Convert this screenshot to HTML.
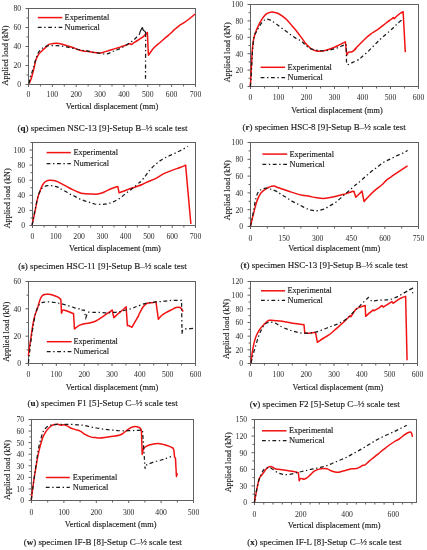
<!DOCTYPE html>
<html><head><meta charset="utf-8"><style>
html,body{margin:0;padding:0;background:#fff;}
svg{display:block;filter:blur(0.4px);}
text{font-family:"Liberation Serif", serif;fill:#1a1a1a;stroke:#1a1a1a;stroke-width:0.15px;}
.n{font-size:8.7px;fill:#2a2a2a;stroke:none;}
.t{font-size:8.8px;}
.c{font-size:9.1px;}
.ax{fill:none;stroke:#606060;stroke-width:1;}
.red{fill:none;stroke:#f21212;stroke-width:1.5;stroke-linejoin:round;}
.blks{fill:none;stroke:#1a1a1a;stroke-width:1.2;}
.blk{fill:none;stroke:#1a1a1a;stroke-width:1.25;stroke-dasharray:3.8 2.6 1.4 2.6;}
</style></head><body>
<svg width="427" height="550" viewBox="0 0 427 550">
<text x="21.1" y="87.4" text-anchor="end" class="n" textLength="3.85" lengthAdjust="spacingAndGlyphs">0</text>
<text x="21.1" y="68.4" text-anchor="end" class="n" textLength="7.7" lengthAdjust="spacingAndGlyphs">20</text>
<text x="21.1" y="49.4" text-anchor="end" class="n" textLength="7.7" lengthAdjust="spacingAndGlyphs">40</text>
<text x="21.1" y="30.4" text-anchor="end" class="n" textLength="7.7" lengthAdjust="spacingAndGlyphs">60</text>
<text x="21.1" y="11.4" text-anchor="end" class="n" textLength="7.7" lengthAdjust="spacingAndGlyphs">80</text>
<text x="28.5" y="97.4" text-anchor="middle" class="n" textLength="3.85" lengthAdjust="spacingAndGlyphs">0</text>
<text x="52.36" y="97.4" text-anchor="middle" class="n" textLength="11.55" lengthAdjust="spacingAndGlyphs">100</text>
<text x="76.21" y="97.4" text-anchor="middle" class="n" textLength="11.55" lengthAdjust="spacingAndGlyphs">200</text>
<text x="100.07" y="97.4" text-anchor="middle" class="n" textLength="11.55" lengthAdjust="spacingAndGlyphs">300</text>
<text x="123.93" y="97.4" text-anchor="middle" class="n" textLength="11.55" lengthAdjust="spacingAndGlyphs">400</text>
<text x="147.79" y="97.4" text-anchor="middle" class="n" textLength="11.55" lengthAdjust="spacingAndGlyphs">500</text>
<text x="171.64" y="97.4" text-anchor="middle" class="n" textLength="11.55" lengthAdjust="spacingAndGlyphs">600</text>
<text x="195.5" y="97.4" text-anchor="middle" class="n" textLength="11.55" lengthAdjust="spacingAndGlyphs">700</text>
<path d="M25.5 84.5H28.5M26.5 75H28.5M25.5 65.5H28.5M26.5 56H28.5M25.5 46.5H28.5M26.5 37H28.5M25.5 27.5H28.5M26.5 18H28.5M25.5 8.5H28.5M28.5 84.5V87M40.43 84.5V86.5M52.36 84.5V87M64.29 84.5V86.5M76.21 84.5V87M88.14 84.5V86.5M100.07 84.5V87M112 84.5V86.5M123.93 84.5V87M135.86 84.5V86.5M147.79 84.5V87M159.71 84.5V86.5M171.64 84.5V87M183.57 84.5V86.5M195.5 84.5V87" class="ax"/>
<rect x="28.5" y="8.5" width="167" height="76" class="ax"/>
<text transform="translate(8.3 55.5) rotate(-90)" text-anchor="middle" class="t" textLength="60" lengthAdjust="spacingAndGlyphs">Applied load (kN)</text>
<text x="65.7" y="108.7" class="t" textLength="92.6" lengthAdjust="spacingAndGlyphs">Vertical displacement (mm)</text>
<path d="M29.18 83.45C29.48 82.76 30.43 80.95 31.01 79.28C31.6 77.6 32.13 75.52 32.69 73.43C33.24 71.34 33.87 68.83 34.36 66.74C34.84 64.65 35.12 62.56 35.61 60.89C36.1 59.22 36.65 57.97 37.28 56.71C37.91 55.46 38.47 54.48 39.37 53.37C40.28 52.26 41.6 51.07 42.71 50.03C43.83 48.98 45.08 48.01 46.06 47.1C47.03 46.2 47.59 45.15 48.56 44.6C49.54 44.04 50.67 43.97 51.91 43.76C53.14 43.55 54.86 43.39 56 43.34C57.14 43.3 57.57 43.3 58.72 43.49C59.88 43.68 61.53 44.1 62.94 44.47C64.34 44.85 65.52 45.22 67.15 45.74C68.79 46.25 70.9 46.91 72.78 47.56C74.65 48.22 76.36 49.04 78.4 49.67C80.43 50.3 83.56 51.1 85 51.36C86.44 51.61 85.52 50.99 87.03 51.19C88.53 51.4 91.83 52.3 94.05 52.6C96.28 52.9 98.5 53.19 100.37 53.02C102.25 52.86 103.3 52.2 105.29 51.62C107.28 51.03 109.98 50.21 112.32 49.51C114.66 48.81 117 48.15 119.34 47.4C121.69 46.65 124.61 45.64 126.37 45.01C128.13 44.38 129.3 43.84 129.88 43.61C130.12 43.77 131.05 44.43 131.29 44.59C131.87 44.19 132.85 43.48 134.8 42.2C136.75 40.93 141.28 38.23 143.01 36.94C144.74 35.65 144.47 35.19 145.19 34.47C145.92 33.74 147.01 32.89 147.38 32.57C147.55 36.33 148.23 51.38 148.4 55.15C149.32 53.93 152.04 49.93 153.93 47.86C155.83 45.8 157.82 44.47 159.76 42.77C161.7 41.07 163.76 39.25 165.58 37.67C167.4 36.09 169.22 34.64 170.68 33.3C172.14 31.97 172.99 30.87 174.32 29.66C175.66 28.45 176.99 27.23 178.69 26.02C180.39 24.81 182.57 23.71 184.51 22.38C186.46 21.04 188.59 19.39 190.34 18.01C192.09 16.63 194.22 14.73 195 14.08" class="red"/>
<path d="M29.18 83.45C29.34 82.48 29.73 79.42 30.18 77.6C30.62 75.79 31.29 74.26 31.85 72.59C32.41 70.92 33.03 69.25 33.52 67.58C34.01 65.91 34.29 64.23 34.77 62.56C35.26 60.89 35.89 59.15 36.45 57.55C37 55.95 37.35 54.35 38.12 52.95C38.88 51.56 40 50.17 41.04 49.19C42.09 48.22 43.27 47.66 44.38 47.1C45.5 46.55 46.61 46.09 47.73 45.85C48.84 45.61 49.69 45.71 51.07 45.68C52.45 45.65 54.49 45.65 56 45.68C57.51 45.72 58.5 45.68 60.13 45.88C61.75 46.07 63.88 46.53 65.75 46.86C67.62 47.19 69.5 47.45 71.37 47.85C73.24 48.24 75.12 48.83 76.99 49.25C78.86 49.67 80.94 50.1 82.61 50.37C84.28 50.65 85.12 50.59 87.03 50.91C88.93 51.24 91.71 51.9 94.05 52.32C96.39 52.74 98.97 53.16 101.08 53.44C103.19 53.72 104.82 54.31 106.7 54C108.57 53.7 110.44 52.37 112.32 51.62C114.19 50.87 116.07 50.33 117.94 49.51C119.81 48.69 121.69 47.75 123.56 46.7C125.43 45.64 127.31 44.47 129.18 43.19C131.05 41.9 133.15 40.42 134.8 38.97C136.45 37.52 138.36 35.22 139.08 34.47" class="blk"/>
<path d="M145.7 33.3C145.68 36.08 145.63 42.13 145.6 50C145.57 57.87 145.52 75.42 145.5 80.5" class="blk"/>
<path d="M139.3 34.6C139.45 34.12 139.9 32.5 140.2 31.7C140.5 30.9 140.75 30.5 141.1 29.8C141.45 29.1 141.98 27.53 142.3 27.5C142.62 27.47 142.68 29.05 143 29.6C143.32 30.15 143.82 30.42 144.2 30.8C144.58 31.18 145.05 31.48 145.3 31.9C145.55 32.32 145.63 33.07 145.7 33.3" class="blks"/>
<path d="M37.8 17.6H62.3" class="red"/>
<path d="M37.8 27.4H62.3" class="blk"/>
<text x="64.6" y="20.1" class="t" textLength="44.7" lengthAdjust="spacingAndGlyphs">Experimental</text>
<text x="64.6" y="29.9" class="t" textLength="35.2" lengthAdjust="spacingAndGlyphs">Numerical</text>
<text x="17.6" y="130.6" class="c" textLength="169.9" lengthAdjust="spacingAndGlyphs">(<tspan font-weight="bold">q</tspan>) specimen NSC-13 [9]-Setup B–½ scale test</text>
<text x="243.1" y="89.4" text-anchor="end" class="n" textLength="3.85" lengthAdjust="spacingAndGlyphs">0</text>
<text x="243.1" y="73" text-anchor="end" class="n" textLength="7.7" lengthAdjust="spacingAndGlyphs">20</text>
<text x="243.1" y="56.6" text-anchor="end" class="n" textLength="7.7" lengthAdjust="spacingAndGlyphs">40</text>
<text x="243.1" y="40.2" text-anchor="end" class="n" textLength="7.7" lengthAdjust="spacingAndGlyphs">60</text>
<text x="243.1" y="23.8" text-anchor="end" class="n" textLength="7.7" lengthAdjust="spacingAndGlyphs">80</text>
<text x="243.1" y="7.4" text-anchor="end" class="n" textLength="11.55" lengthAdjust="spacingAndGlyphs">100</text>
<text x="250.5" y="99.9" text-anchor="middle" class="n" textLength="3.85" lengthAdjust="spacingAndGlyphs">0</text>
<text x="278.5" y="99.9" text-anchor="middle" class="n" textLength="11.55" lengthAdjust="spacingAndGlyphs">100</text>
<text x="306.5" y="99.9" text-anchor="middle" class="n" textLength="11.55" lengthAdjust="spacingAndGlyphs">200</text>
<text x="334.5" y="99.9" text-anchor="middle" class="n" textLength="11.55" lengthAdjust="spacingAndGlyphs">300</text>
<text x="362.5" y="99.9" text-anchor="middle" class="n" textLength="11.55" lengthAdjust="spacingAndGlyphs">400</text>
<text x="390.5" y="99.9" text-anchor="middle" class="n" textLength="11.55" lengthAdjust="spacingAndGlyphs">500</text>
<text x="418.5" y="99.9" text-anchor="middle" class="n" textLength="11.55" lengthAdjust="spacingAndGlyphs">600</text>
<path d="M247.5 86.5H250.5M248.5 78.3H250.5M247.5 70.1H250.5M248.5 61.9H250.5M247.5 53.7H250.5M248.5 45.5H250.5M247.5 37.3H250.5M248.5 29.1H250.5M247.5 20.9H250.5M248.5 12.7H250.5M247.5 4.5H250.5M250.5 86.5V89M264.5 86.5V88.5M278.5 86.5V89M292.5 86.5V88.5M306.5 86.5V89M320.5 86.5V88.5M334.5 86.5V89M348.5 86.5V88.5M362.5 86.5V89M376.5 86.5V88.5M390.5 86.5V89M404.5 86.5V88.5M418.5 86.5V89" class="ax"/>
<rect x="250.5" y="4.5" width="168" height="82" class="ax"/>
<text transform="translate(230.1 52.3) rotate(-90)" text-anchor="middle" class="t" textLength="60" lengthAdjust="spacingAndGlyphs">Applied load (kN)</text>
<text x="291.2" y="112.5" class="t" textLength="91.5" lengthAdjust="spacingAndGlyphs">Vertical displacement (mm)</text>
<path d="M250.34 86.38C250.47 84.03 250.86 77.26 251.12 72.31C251.39 67.36 251.65 61.11 251.91 56.69C252.17 52.26 252.35 48.88 252.69 45.75C253.03 42.62 253.42 40.28 253.94 37.94C254.46 35.59 255.11 33.64 255.81 31.69C256.52 29.73 257.38 27.91 258.16 26.22C258.94 24.53 259.59 23.09 260.5 21.53C261.41 19.97 262.58 18.15 263.62 16.84C264.67 15.54 265.58 14.5 266.75 13.72C267.92 12.94 269.48 12.42 270.66 12.16C271.83 11.9 272.61 11.97 273.78 12.16C274.95 12.34 276.26 12.6 277.69 13.25C279.12 13.9 280.81 14.94 282.38 16.06C283.94 17.18 285.5 18.41 287.06 19.97C288.62 21.53 290.19 23.61 291.75 25.44C293.31 27.26 294.88 28.95 296.44 30.91C298 32.86 299.69 35.2 301.12 37.16C302.56 39.11 304.05 41.32 305.03 42.62C306.02 43.93 306.05 43.98 307.03 44.97C308.02 45.96 309.51 47.6 310.94 48.56C312.37 49.53 314.06 50.31 315.62 50.75C317.19 51.19 318.75 51.27 320.31 51.22C321.88 51.17 323.18 50.88 325 50.44C326.82 49.99 329.17 49.34 331.25 48.56C333.33 47.78 335.68 46.61 337.5 45.75C339.32 44.89 340.89 44.06 342.19 43.41C343.49 42.76 344.79 42.1 345.31 41.84C345.57 44.06 346.61 52.91 346.88 55.12C347.14 54.66 347.66 52.83 348.44 52.31C349.22 51.79 350.65 52.31 351.56 52C352.47 51.69 353.12 51.09 353.91 50.44C354.69 49.79 356.07 48.35 356.25 48.09C356.43 47.83 354.43 49.53 355 48.88C355.57 48.22 357.86 46.01 359.69 44.19C361.51 42.36 364.11 39.63 365.94 37.94C367.76 36.24 368.8 35.33 370.62 34.03C372.45 32.73 374.79 31.56 376.88 30.12C378.96 28.69 381.3 26.87 383.12 25.44C384.95 24.01 386.51 22.52 387.81 21.53C389.11 20.54 390.03 20.15 390.94 19.5C391.85 18.85 392.89 17.94 393.28 17.62C393.46 17.81 394.19 18.54 394.38 18.72C394.84 18.22 396.2 16.66 397.19 15.75C398.18 14.84 399.32 13.93 400.31 13.25C401.3 12.57 402.66 11.95 403.12 11.69C403.49 18.46 404.95 45.54 405.31 52.31" class="red"/>
<path d="M250.34 86.38C250.47 84.81 250.86 81.17 251.12 77C251.39 72.83 251.65 66.06 251.91 61.38C252.17 56.69 252.3 53.17 252.69 48.88C253.08 44.58 253.6 38.46 254.25 35.59C254.9 32.73 255.81 33.12 256.59 31.69C257.38 30.26 258.03 28.56 258.94 27C259.85 25.44 261.02 23.56 262.06 22.31C263.1 21.06 264.28 20.02 265.19 19.5C266.1 18.98 266.49 18.98 267.53 19.19C268.57 19.4 270.01 19.97 271.44 20.75C272.87 21.53 274.3 22.57 276.12 23.88C277.95 25.18 280.29 27 282.38 28.56C284.46 30.12 286.54 31.74 288.62 33.25C290.71 34.76 292.79 36.32 294.88 37.62C296.96 38.93 299.49 39.97 301.12 41.06C302.76 42.16 303.31 43.02 304.69 44.19C306.06 45.36 307.55 47.1 309.38 48.09C311.2 49.08 313.54 49.68 315.62 50.12C317.71 50.57 319.79 50.7 321.88 50.75C323.96 50.8 326.04 50.75 328.12 50.44C330.21 50.12 332.29 49.53 334.38 48.88C336.46 48.22 338.67 47.31 340.62 46.53C342.58 45.75 345.18 44.58 346.09 44.19C346.17 47.44 346.48 60.46 346.56 63.72C346.88 63.85 347.34 64.76 348.44 64.5C349.53 64.24 351.2 63.07 353.12 62.16C355.05 61.24 358.65 59.81 360 59.03C361.35 58.25 360 58.64 361.25 57.47C362.5 56.3 365.42 53.95 367.5 52C369.58 50.05 371.67 47.83 373.75 45.75C375.83 43.67 377.92 41.45 380 39.5C382.08 37.55 384.17 35.85 386.25 34.03C388.33 32.21 390.68 30.26 392.5 28.56C394.32 26.87 395.62 25.31 397.19 23.88C398.75 22.44 401.09 20.62 401.88 19.97" class="blk"/>
<path d="M260.6 67.3H285.1" class="red"/>
<path d="M260.6 77.6H285.1" class="blk"/>
<text x="287.4" y="69.8" class="t" textLength="44.5" lengthAdjust="spacingAndGlyphs">Experimental</text>
<text x="287.4" y="80.1" class="t" textLength="35.4" lengthAdjust="spacingAndGlyphs">Numerical</text>
<text x="242.6" y="130.2" class="c" textLength="163.1" lengthAdjust="spacingAndGlyphs">(<tspan font-weight="bold">r</tspan>) specimen HSC-8 [9]-Setup B–½ scale test</text>
<text x="25.1" y="228.4" text-anchor="end" class="n" textLength="3.85" lengthAdjust="spacingAndGlyphs">0</text>
<text x="25.1" y="213.31" text-anchor="end" class="n" textLength="7.7" lengthAdjust="spacingAndGlyphs">20</text>
<text x="25.1" y="198.22" text-anchor="end" class="n" textLength="7.7" lengthAdjust="spacingAndGlyphs">40</text>
<text x="25.1" y="183.13" text-anchor="end" class="n" textLength="7.7" lengthAdjust="spacingAndGlyphs">60</text>
<text x="25.1" y="168.04" text-anchor="end" class="n" textLength="7.7" lengthAdjust="spacingAndGlyphs">80</text>
<text x="25.1" y="152.95" text-anchor="end" class="n" textLength="11.55" lengthAdjust="spacingAndGlyphs">100</text>
<text x="32.5" y="238.5" text-anchor="middle" class="n" textLength="3.85" lengthAdjust="spacingAndGlyphs">0</text>
<text x="55.79" y="238.5" text-anchor="middle" class="n" textLength="11.55" lengthAdjust="spacingAndGlyphs">100</text>
<text x="79.07" y="238.5" text-anchor="middle" class="n" textLength="11.55" lengthAdjust="spacingAndGlyphs">200</text>
<text x="102.36" y="238.5" text-anchor="middle" class="n" textLength="11.55" lengthAdjust="spacingAndGlyphs">300</text>
<text x="125.64" y="238.5" text-anchor="middle" class="n" textLength="11.55" lengthAdjust="spacingAndGlyphs">400</text>
<text x="148.93" y="238.5" text-anchor="middle" class="n" textLength="11.55" lengthAdjust="spacingAndGlyphs">500</text>
<text x="172.21" y="238.5" text-anchor="middle" class="n" textLength="11.55" lengthAdjust="spacingAndGlyphs">600</text>
<text x="195.5" y="238.5" text-anchor="middle" class="n" textLength="11.55" lengthAdjust="spacingAndGlyphs">700</text>
<path d="M29.5 225.5H32.5M30.5 217.95H32.5M29.5 210.41H32.5M30.5 202.86H32.5M29.5 195.32H32.5M30.5 187.77H32.5M29.5 180.23H32.5M30.5 172.68H32.5M29.5 165.14H32.5M30.5 157.59H32.5M29.5 150.05H32.5M30.5 142.5H32.5M32.5 225.5V228M44.14 225.5V227.5M55.79 225.5V228M67.43 225.5V227.5M79.07 225.5V228M90.71 225.5V227.5M102.36 225.5V228M114 225.5V227.5M125.64 225.5V228M137.29 225.5V227.5M148.93 225.5V228M160.57 225.5V227.5M172.21 225.5V228M183.86 225.5V227.5M195.5 225.5V228" class="ax"/>
<rect x="32.5" y="142.5" width="163" height="83" class="ax"/>
<text transform="translate(9.8 198.3) rotate(-90)" text-anchor="middle" class="t" textLength="60" lengthAdjust="spacingAndGlyphs">Applied load (kN)</text>
<text x="68.9" y="250.8" class="t" textLength="92" lengthAdjust="spacingAndGlyphs">Vertical displacement (mm)</text>
<path d="M32.11 224.93C32.38 223.7 33.17 220 33.7 217.54C34.23 215.07 34.75 212.78 35.28 210.14C35.81 207.5 36.34 204.15 36.87 201.69C37.39 199.23 37.92 197.11 38.45 195.35C38.98 193.59 39.51 192.54 40.04 191.13C40.56 189.72 41 188.22 41.62 186.9C42.24 185.58 42.94 184.17 43.73 183.2C44.52 182.24 45.4 181.57 46.37 181.09C47.34 180.62 48.4 180.44 49.54 180.35C50.69 180.26 51.92 180.35 53.24 180.56C54.56 180.77 55.74 180.91 57.46 181.62C59.19 182.33 61.78 183.82 63.6 184.8C65.42 185.78 66.8 186.67 68.4 187.52C70 188.37 71.6 189.17 73.2 189.92C74.8 190.67 76.4 191.39 78 192C79.6 192.61 80.57 193.25 82.8 193.6C85.03 193.95 88.9 194 91.4 194.08C93.9 194.16 95.93 194.29 97.8 194.08C99.67 193.87 101 193.41 102.6 192.8C104.2 192.19 105.8 191.15 107.4 190.4C109 189.65 110.47 188.99 112.2 188.32C113.93 187.65 116.87 186.72 117.8 186.4C118.01 187.47 118.87 191.73 119.08 192.8C119.8 192.53 121.61 191.87 123.4 191.2C125.19 190.53 127.67 189.55 129.8 188.8C131.93 188.05 134.33 187.39 136.2 186.72C138.07 186.05 140.37 184.99 141 184.8C141.63 184.61 139.1 186 140 185.6C140.9 185.2 143.73 183.6 146.4 182.4C149.07 181.2 153.33 179.73 156 178.4C158.67 177.07 160.27 175.52 162.4 174.4C164.53 173.28 166.67 172.56 168.8 171.68C170.93 170.8 173.33 169.81 175.2 169.12C177.07 168.43 178.27 168.19 180 167.52C181.73 166.85 184.67 165.52 185.6 165.12C186.48 174.93 190 214.19 190.88 224" class="red"/>
<path d="M32.11 224.93C32.29 224.05 32.73 221.94 33.17 219.65C33.61 217.36 34.23 213.84 34.75 211.2C35.28 208.56 35.81 206.27 36.34 203.8C36.87 201.34 37.39 198.35 37.92 196.41C38.45 194.47 38.89 193.5 39.51 192.18C40.12 190.86 40.83 189.4 41.62 188.49C42.41 187.57 43.29 187.17 44.26 186.69C45.23 186.21 46.29 185.81 47.43 185.63C48.57 185.46 49.81 185.51 51.13 185.63C52.45 185.76 54.12 186.07 55.35 186.37C56.58 186.67 57.68 187.03 58.52 187.43C59.36 187.83 59.29 188.17 60.4 188.8C61.51 189.43 63.6 190.32 65.2 191.2C66.8 192.08 68.4 193.23 70 194.08C71.6 194.93 73.2 195.52 74.8 196.32C76.4 197.12 78 198.13 79.6 198.88C81.2 199.63 82.7 200.21 84.4 200.8C86.1 201.39 88.1 201.87 89.8 202.4C91.5 202.93 92.73 203.65 94.6 204C96.47 204.35 98.87 204.53 101 204.48C103.13 204.43 105.27 204.16 107.4 203.68C109.53 203.2 111.67 202.56 113.8 201.6C115.93 200.64 118.07 199.39 120.2 197.92C122.33 196.45 124.47 194.45 126.6 192.8C128.73 191.15 130.87 189.73 133 188C135.13 186.27 138.23 183.33 139.4 182.4C140.57 181.47 139.1 183.33 140 182.4C140.9 181.47 143.2 178.8 144.8 176.8C146.4 174.8 147.73 172.53 149.6 170.4C151.47 168.27 153.87 165.87 156 164C158.13 162.13 160.27 160.53 162.4 159.2C164.53 157.87 166.67 157.01 168.8 156C170.93 154.99 173.07 154.13 175.2 153.12C177.33 152.11 179.47 151.04 181.6 149.92C183.73 148.8 186.93 146.99 188 146.4" class="blk"/>
<path d="M46.6 152.6H70.8" class="red"/>
<path d="M46.6 163.6H70.8" class="blk"/>
<text x="73.5" y="155.1" class="t" textLength="44.5" lengthAdjust="spacingAndGlyphs">Experimental</text>
<text x="73.5" y="166.1" class="t" textLength="35.6" lengthAdjust="spacingAndGlyphs">Numerical</text>
<text x="18.2" y="268.6" class="c" textLength="168.5" lengthAdjust="spacingAndGlyphs">(<tspan font-weight="bold">s</tspan>) specimen HSC-11 [9]-Setup B–½ scale test</text>
<text x="243.1" y="229.4" text-anchor="end" class="n" textLength="3.85" lengthAdjust="spacingAndGlyphs">0</text>
<text x="243.1" y="212.6" text-anchor="end" class="n" textLength="7.7" lengthAdjust="spacingAndGlyphs">20</text>
<text x="243.1" y="195.8" text-anchor="end" class="n" textLength="7.7" lengthAdjust="spacingAndGlyphs">40</text>
<text x="243.1" y="179" text-anchor="end" class="n" textLength="7.7" lengthAdjust="spacingAndGlyphs">60</text>
<text x="243.1" y="162.2" text-anchor="end" class="n" textLength="7.7" lengthAdjust="spacingAndGlyphs">80</text>
<text x="243.1" y="145.4" text-anchor="end" class="n" textLength="11.55" lengthAdjust="spacingAndGlyphs">100</text>
<text x="250.5" y="240.5" text-anchor="middle" class="n" textLength="3.85" lengthAdjust="spacingAndGlyphs">0</text>
<text x="284.1" y="240.5" text-anchor="middle" class="n" textLength="11.55" lengthAdjust="spacingAndGlyphs">150</text>
<text x="317.7" y="240.5" text-anchor="middle" class="n" textLength="11.55" lengthAdjust="spacingAndGlyphs">300</text>
<text x="351.3" y="240.5" text-anchor="middle" class="n" textLength="11.55" lengthAdjust="spacingAndGlyphs">450</text>
<text x="384.9" y="240.5" text-anchor="middle" class="n" textLength="11.55" lengthAdjust="spacingAndGlyphs">600</text>
<text x="418.5" y="240.5" text-anchor="middle" class="n" textLength="11.55" lengthAdjust="spacingAndGlyphs">750</text>
<path d="M247.5 226.5H250.5M248.5 218.1H250.5M247.5 209.7H250.5M248.5 201.3H250.5M247.5 192.9H250.5M248.5 184.5H250.5M247.5 176.1H250.5M248.5 167.7H250.5M247.5 159.3H250.5M248.5 150.9H250.5M247.5 142.5H250.5M250.5 226.5V229M267.3 226.5V228.5M284.1 226.5V229M300.9 226.5V228.5M317.7 226.5V229M334.5 226.5V228.5M351.3 226.5V229M368.1 226.5V228.5M384.9 226.5V229M401.7 226.5V228.5M418.5 226.5V229" class="ax"/>
<rect x="250.5" y="142.5" width="168" height="84" class="ax"/>
<text transform="translate(229.9 190.2) rotate(-90)" text-anchor="middle" class="t" textLength="60" lengthAdjust="spacingAndGlyphs">Applied load (kN)</text>
<text x="288.2" y="250.8" class="t" textLength="92" lengthAdjust="spacingAndGlyphs">Vertical displacement (mm)</text>
<path d="M250.41 226.13C250.57 225.48 251.05 223.55 251.38 222.27C251.7 220.98 252.02 219.69 252.34 218.41C252.66 217.12 252.98 215.84 253.31 214.55C253.63 213.26 253.95 211.98 254.27 210.69C254.59 209.41 254.83 208.28 255.23 206.83C255.64 205.39 256.2 203.46 256.68 202.01C257.16 200.56 257.57 199.44 258.13 198.15C258.69 196.86 259.33 195.42 260.06 194.29C260.78 193.17 261.59 192.23 262.47 191.4C263.35 190.56 264.4 189.92 265.36 189.28C266.33 188.63 267.29 188.02 268.26 187.54C269.22 187.06 270.19 186.62 271.15 186.38C272.12 186.14 272.84 185.88 274.05 186.09C275.25 186.31 276.87 187.15 278.4 187.68C279.93 188.21 281.33 188.64 283.2 189.28C285.07 189.92 287.47 190.8 289.6 191.52C291.73 192.24 293.87 192.99 296 193.6C298.13 194.21 300.17 194.75 302.4 195.2C304.63 195.65 307.17 195.92 309.4 196.32C311.63 196.72 313.4 197.25 315.8 197.6C318.2 197.95 321.13 198.45 323.8 198.4C326.47 198.35 329.13 197.81 331.8 197.28C334.47 196.75 337.4 195.81 339.8 195.2C342.2 194.59 344.33 194.13 346.2 193.6C348.07 193.07 349.72 192.4 351 192C352.28 191.6 353.4 191.33 353.88 191.2C354.2 192.21 355.48 196.27 355.8 197.28C356.83 196.26 360.96 192.16 361.99 191.13C362.34 192.87 363.73 199.79 364.07 201.52C364.66 200.85 365.94 199.26 367.59 197.53C369.24 195.79 371.58 193.26 373.98 191.13C376.38 189 379.84 186.61 381.97 184.74C384.1 182.88 384.9 181.49 386.76 179.95C388.63 178.4 391.02 176.94 393.15 175.47C395.29 174.01 397.15 172.76 399.55 171.16C401.94 169.56 406.2 166.77 407.54 165.89" class="red"/>
<path d="M250.41 226.13C250.52 225.64 250.85 224.36 251.09 223.23C251.33 222.11 251.57 220.82 251.86 219.37C252.15 217.93 252.5 216.16 252.82 214.55C253.14 212.94 253.47 211.5 253.79 209.73C254.11 207.96 254.43 205.71 254.75 203.94C255.07 202.17 255.32 200.72 255.72 199.12C256.12 197.51 256.6 195.66 257.16 194.29C257.73 192.93 258.37 191.75 259.09 190.92C259.82 190.08 260.62 189.71 261.5 189.28C262.39 188.84 263.43 188.47 264.4 188.31C265.36 188.15 266.33 188.2 267.29 188.31C268.26 188.42 269.22 188.71 270.19 188.99C271.15 189.26 271.95 189.52 273.08 189.95C274.21 190.39 275.79 190.98 276.94 191.59C278.09 192.2 278.42 192.6 280 193.6C281.58 194.6 284.27 196.27 286.4 197.6C288.53 198.93 290.67 200.4 292.8 201.6C294.93 202.8 296.7 203.55 299.2 204.8C301.7 206.05 305.57 208.19 307.8 209.12C310.03 210.05 311 210.13 312.6 210.4C314.2 210.67 315.53 210.93 317.4 210.72C319.27 210.51 321.67 209.97 323.8 209.12C325.93 208.27 328.07 206.85 330.2 205.6C332.33 204.35 334.47 203.2 336.6 201.6C338.73 200 340.87 197.87 343 196C345.13 194.13 347.27 192.27 349.4 190.4C351.53 188.53 354.37 186.01 355.8 184.8C357.23 183.59 356.57 184.35 358 183.14C359.43 181.94 362.26 179.42 364.39 177.55C366.52 175.69 368.65 173.69 370.78 171.96C372.91 170.23 375.04 168.76 377.18 167.16C379.31 165.57 381.44 163.7 383.57 162.37C385.7 161.04 387.83 160.24 389.96 159.18C392.09 158.11 394.22 156.99 396.35 155.98C398.48 154.97 400.88 154.04 402.74 153.1C404.61 152.17 406.74 150.84 407.54 150.39" class="blk"/>
<path d="M262.4 154.1H287.2" class="red"/>
<path d="M262.4 164.3H287.2" class="blk"/>
<text x="289.5" y="156.6" class="t" textLength="44.5" lengthAdjust="spacingAndGlyphs">Experimental</text>
<text x="289.5" y="166.8" class="t" textLength="35.1" lengthAdjust="spacingAndGlyphs">Numerical</text>
<text x="240.5" y="267.8" class="c" textLength="167.2" lengthAdjust="spacingAndGlyphs">(<tspan font-weight="bold">t</tspan>) specimen HSC-13 [9]-Setup B–½ scale test</text>
<text x="21.1" y="366.4" text-anchor="end" class="n" textLength="3.85" lengthAdjust="spacingAndGlyphs">0</text>
<text x="21.1" y="339.07" text-anchor="end" class="n" textLength="7.7" lengthAdjust="spacingAndGlyphs">20</text>
<text x="21.1" y="311.73" text-anchor="end" class="n" textLength="7.7" lengthAdjust="spacingAndGlyphs">40</text>
<text x="21.1" y="284.4" text-anchor="end" class="n" textLength="7.7" lengthAdjust="spacingAndGlyphs">60</text>
<text x="28.5" y="377.2" text-anchor="middle" class="n" textLength="3.85" lengthAdjust="spacingAndGlyphs">0</text>
<text x="56.33" y="377.2" text-anchor="middle" class="n" textLength="11.55" lengthAdjust="spacingAndGlyphs">100</text>
<text x="84.17" y="377.2" text-anchor="middle" class="n" textLength="11.55" lengthAdjust="spacingAndGlyphs">200</text>
<text x="112" y="377.2" text-anchor="middle" class="n" textLength="11.55" lengthAdjust="spacingAndGlyphs">300</text>
<text x="139.83" y="377.2" text-anchor="middle" class="n" textLength="11.55" lengthAdjust="spacingAndGlyphs">400</text>
<text x="167.67" y="377.2" text-anchor="middle" class="n" textLength="11.55" lengthAdjust="spacingAndGlyphs">500</text>
<text x="195.5" y="377.2" text-anchor="middle" class="n" textLength="11.55" lengthAdjust="spacingAndGlyphs">600</text>
<path d="M25.5 363.5H28.5M26.5 349.83H28.5M25.5 336.17H28.5M26.5 322.5H28.5M25.5 308.83H28.5M26.5 295.17H28.5M25.5 281.5H28.5M28.5 363.5V366M42.42 363.5V365.5M56.33 363.5V366M70.25 363.5V365.5M84.17 363.5V366M98.08 363.5V365.5M112 363.5V366M125.92 363.5V365.5M139.83 363.5V366M153.75 363.5V365.5M167.67 363.5V366M181.58 363.5V365.5M195.5 363.5V366" class="ax"/>
<rect x="28.5" y="281.5" width="167" height="82" class="ax"/>
<text transform="translate(8.7 331.8) rotate(-90)" text-anchor="middle" class="t" textLength="60" lengthAdjust="spacingAndGlyphs">Applied load (kN)</text>
<text x="65.7" y="389.6" class="t" textLength="92.7" lengthAdjust="spacingAndGlyphs">Vertical displacement (mm)</text>
<path d="M28.4 355.6C28.59 354.13 29.12 349.6 29.52 346.8C29.92 344 30.32 342 30.8 338.8C31.28 335.6 31.87 330.93 32.4 327.6C32.93 324.27 33.47 321.2 34 318.8C34.53 316.4 35.07 314.8 35.6 313.2C36.13 311.6 36.67 310.8 37.2 309.2C37.73 307.6 38.27 305.33 38.8 303.6C39.33 301.87 39.87 300.08 40.4 298.8C40.93 297.52 41.33 296.64 42 295.92C42.67 295.2 43.33 294.75 44.4 294.48C45.47 294.21 46.93 294.19 48.4 294.32C49.87 294.45 51.6 294.8 53.2 295.28C54.8 295.76 56.72 296.48 58 297.2C59.28 297.92 60.4 299.2 60.88 299.6C60.99 301.87 61.41 310.93 61.52 313.2C61.79 312.67 62.11 310.32 63.12 310C64.13 309.68 66.05 310.75 67.6 311.28C69.15 311.81 71.41 312.83 72.4 313.2C73.39 313.57 73.33 313.47 73.52 313.52C73.68 316.08 74.32 326.32 74.48 328.88C75.2 328.35 77.71 326.37 78.8 325.68C79.89 324.99 79.83 325.07 81 324.72C82.17 324.37 84.2 323.92 85.8 323.6C87.4 323.28 89 323.2 90.6 322.8C92.2 322.4 93.8 321.95 95.4 321.2C97 320.45 98.6 319.33 100.2 318.32C101.8 317.31 103.53 316.11 105 315.12C106.47 314.13 107.8 313.25 109 312.4C110.2 311.55 111.67 310.4 112.2 310C112.47 311.28 113.53 316.4 113.8 317.68C114.47 317.07 116.33 315.28 117.8 314C119.27 312.72 121.21 311.2 122.6 310C123.99 308.8 125.53 307.33 126.12 306.8C126.33 309.95 127.19 322.53 127.4 325.68C127.67 325.68 128.25 325.41 129 325.68C129.75 325.95 131.4 327.01 131.88 327.28C132.47 326.27 134.28 323.15 135.4 321.2C136.52 319.25 137.97 316.81 138.6 315.6C139.23 314.39 138.43 315.43 139.2 313.95C139.96 312.48 141.86 308.55 143.19 306.76C144.52 304.98 145.72 303.91 147.19 303.25C148.65 302.58 150.51 302.98 151.98 302.77C153.44 302.55 155.31 302.1 155.97 301.97C156.37 304.85 157.97 316.35 158.37 319.23C158.9 318.61 160.24 316.7 161.57 315.55C162.9 314.41 164.76 313.29 166.36 312.36C167.96 311.42 169.56 310.76 171.15 309.96C172.75 309.16 174.62 308.01 175.95 307.56C177.28 307.11 178.21 307.06 179.14 307.24C180.08 307.43 180.88 307.96 181.54 308.68C182.21 309.4 182.87 311.08 183.14 311.56" class="red"/>
<path d="M28.4 362.8C28.59 361.2 29.12 356.67 29.52 353.2C29.92 349.73 30.32 345.73 30.8 342C31.28 338.27 31.87 334.27 32.4 330.8C32.93 327.33 33.47 324.13 34 321.2C34.53 318.27 34.93 315.6 35.6 313.2C36.27 310.8 37.2 308.4 38 306.8C38.8 305.2 39.6 304.35 40.4 303.6C41.2 302.85 41.73 302.59 42.8 302.32C43.87 302.05 45.33 302.05 46.8 302C48.27 301.95 50 301.87 51.6 302C53.2 302.13 54.8 302.53 56.4 302.8C58 303.07 59.33 303.15 61.2 303.6C63.07 304.05 65.47 304.85 67.6 305.52C69.73 306.19 71.87 306.99 74 307.6C76.13 308.21 79.23 308.8 80.4 309.2C81.57 309.6 80.37 309.87 81 310C81.63 310.13 83.67 310 84.2 310C84.47 311.33 85.53 316.67 85.8 318C86.2 317.07 86.87 313.33 88.2 312.4C89.53 311.47 91.8 312.4 93.8 312.4C95.8 312.4 98.07 312.32 100.2 312.4C102.33 312.48 104.47 312.88 106.6 312.88C108.73 312.88 110.87 312.61 113 312.4C115.13 312.19 117.27 312 119.4 311.6C121.53 311.2 123.67 310.53 125.8 310C127.93 309.47 130.5 308.94 132.2 308.4C133.9 307.86 134.3 307.44 136 306.76C137.7 306.09 140.26 305.03 142.39 304.37C144.52 303.7 146.39 303.17 148.78 302.77C151.18 302.37 154.11 302.24 156.77 301.97C159.44 301.7 162.1 301.44 164.76 301.17C167.43 300.9 169.96 300.5 172.75 300.37C175.55 300.24 180.08 300.37 181.54 300.37C181.62 305.96 181.94 328.34 182.02 333.93C182.21 333.18 182.02 330.31 183.14 329.45C184.26 328.6 187 329 188.73 328.81C190.46 328.63 192.73 328.41 193.53 328.34" class="blk"/>
<path d="M46.8 341.7H71.6" class="red"/>
<path d="M46.8 351.6H71.6" class="blk"/>
<text x="73.4" y="344.2" class="t" textLength="44.5" lengthAdjust="spacingAndGlyphs">Experimental</text>
<text x="73.4" y="354.1" class="t" textLength="35.6" lengthAdjust="spacingAndGlyphs">Numerical</text>
<text x="27.6" y="406.3" class="c" textLength="150.1" lengthAdjust="spacingAndGlyphs">(<tspan font-weight="bold">u</tspan>) specimen F1 [5]-Setup C–½ scale test</text>
<text x="243.1" y="366.4" text-anchor="end" class="n" textLength="3.85" lengthAdjust="spacingAndGlyphs">0</text>
<text x="243.1" y="352.73" text-anchor="end" class="n" textLength="7.7" lengthAdjust="spacingAndGlyphs">20</text>
<text x="243.1" y="339.07" text-anchor="end" class="n" textLength="7.7" lengthAdjust="spacingAndGlyphs">40</text>
<text x="243.1" y="325.4" text-anchor="end" class="n" textLength="7.7" lengthAdjust="spacingAndGlyphs">60</text>
<text x="243.1" y="311.73" text-anchor="end" class="n" textLength="7.7" lengthAdjust="spacingAndGlyphs">80</text>
<text x="243.1" y="298.07" text-anchor="end" class="n" textLength="11.55" lengthAdjust="spacingAndGlyphs">100</text>
<text x="243.1" y="284.4" text-anchor="end" class="n" textLength="11.55" lengthAdjust="spacingAndGlyphs">120</text>
<text x="250.5" y="377.2" text-anchor="middle" class="n" textLength="3.85" lengthAdjust="spacingAndGlyphs">0</text>
<text x="278.33" y="377.2" text-anchor="middle" class="n" textLength="11.55" lengthAdjust="spacingAndGlyphs">100</text>
<text x="306.17" y="377.2" text-anchor="middle" class="n" textLength="11.55" lengthAdjust="spacingAndGlyphs">200</text>
<text x="334" y="377.2" text-anchor="middle" class="n" textLength="11.55" lengthAdjust="spacingAndGlyphs">300</text>
<text x="361.83" y="377.2" text-anchor="middle" class="n" textLength="11.55" lengthAdjust="spacingAndGlyphs">400</text>
<text x="389.67" y="377.2" text-anchor="middle" class="n" textLength="11.55" lengthAdjust="spacingAndGlyphs">500</text>
<text x="417.5" y="377.2" text-anchor="middle" class="n" textLength="11.55" lengthAdjust="spacingAndGlyphs">600</text>
<path d="M247.5 363.5H250.5M248.5 356.67H250.5M247.5 349.83H250.5M248.5 343H250.5M247.5 336.17H250.5M248.5 329.33H250.5M247.5 322.5H250.5M248.5 315.67H250.5M247.5 308.83H250.5M248.5 302H250.5M247.5 295.17H250.5M248.5 288.33H250.5M247.5 281.5H250.5M250.5 363.5V366M264.42 363.5V365.5M278.33 363.5V366M292.25 363.5V365.5M306.17 363.5V366M320.08 363.5V365.5M334 363.5V366M347.92 363.5V365.5M361.83 363.5V366M375.75 363.5V365.5M389.67 363.5V366M403.58 363.5V365.5M417.5 363.5V366" class="ax"/>
<rect x="250.5" y="281.5" width="167" height="82" class="ax"/>
<text transform="translate(229.2 329) rotate(-90)" text-anchor="middle" class="t" textLength="60" lengthAdjust="spacingAndGlyphs">Applied load (kN)</text>
<text x="292.5" y="389.6" class="t" textLength="90.8" lengthAdjust="spacingAndGlyphs">Vertical displacement (mm)</text>
<path d="M251.05 362.88C251.14 362.03 251.31 359.83 251.56 357.8C251.81 355.76 252.19 353.05 252.58 350.68C252.97 348.31 253.39 345.76 253.9 343.56C254.41 341.36 255 339.24 255.63 337.46C256.25 335.68 256.9 334.32 257.66 332.88C258.42 331.44 259.27 330.08 260.2 328.81C261.14 327.54 262.24 326.36 263.25 325.25C264.27 324.15 265.37 323.02 266.31 322.2C267.24 321.39 268.42 320.68 268.85 320.37C269.44 320.37 270.55 320.29 272.41 320.37C274.27 320.46 277.67 320.61 280 320.88C282.33 321.15 284.27 321.6 286.4 322C288.53 322.4 290.67 322.93 292.8 323.28C294.93 323.63 297.33 323.84 299.2 324.08C301.07 324.32 303.2 324.61 304 324.72C304.13 326.13 304.67 331.79 304.8 333.2C305.57 333.2 307.62 333.33 309.4 333.2C311.18 333.07 314.47 332.53 315.48 332.4C315.8 334.05 317.08 340.67 317.4 342.32C318.47 341.6 321.67 339.39 323.8 338C325.93 336.61 328.07 335.6 330.2 334C332.33 332.4 334.47 330.27 336.6 328.4C338.73 326.53 341 324.67 343 322.8C345 320.93 347.4 318.4 348.6 317.2C349.8 316 349.93 315.87 350.2 315.6C350.33 315.79 350.87 316.53 351 316.72C351.53 315.87 353.27 312.93 354.2 311.6C355.13 310.27 355.43 309.53 356.6 308.72C357.77 307.91 359.76 307.3 361.2 306.76C362.63 306.22 364.52 305.7 365.19 305.48C365.27 307.3 365.59 314.54 365.67 316.35C366.26 315.82 367.93 314.22 369.19 313.15C370.44 312.09 372.51 310.49 373.18 309.96C373.31 310.09 373.85 310.62 373.98 310.76C374.78 310.3 377.44 308.92 378.77 308.04C380.1 307.16 381.44 305.91 381.97 305.48C382.18 305.75 383.03 306.82 383.25 307.08C383.97 306.63 386.12 305.27 387.56 304.37C389 303.46 391.16 302.1 391.88 301.65C392.09 301.92 392.94 302.98 393.15 303.25C393.82 302.77 395.82 301.25 397.15 300.37C398.48 299.49 399.73 298.64 401.14 297.97C402.56 297.31 404.87 296.64 405.62 296.38C405.86 307.03 406.82 349.64 407.06 360.29" class="red"/>
<path d="M251.05 362.88C251.25 362.03 251.85 359.49 252.27 357.8C252.69 356.1 253.12 354.41 253.59 352.71C254.07 351.02 254.61 349.32 255.12 347.63C255.63 345.93 256.14 344.24 256.64 342.54C257.15 340.85 257.58 339.15 258.17 337.46C258.76 335.76 259.53 333.9 260.2 332.37C260.88 330.85 261.56 329.58 262.24 328.31C262.92 327.03 263.42 325.68 264.27 324.75C265.12 323.81 266.31 323.14 267.32 322.71C268.34 322.29 269.36 322.2 270.37 322.2C271.39 322.2 272.41 322.46 273.42 322.71C274.44 322.97 275.71 323.39 276.47 323.73C277.24 324.07 277.41 324.37 278 324.75C278.59 325.12 278.6 325.31 280 326C281.4 326.69 284.27 328.03 286.4 328.88C288.53 329.73 290.67 330.48 292.8 331.12C294.93 331.76 297.2 332.37 299.2 332.72C301.2 333.07 302.57 333.2 304.8 333.2C307.03 333.2 310.5 332.99 312.6 332.72C314.7 332.45 315.53 332.19 317.4 331.6C319.27 331.01 321.67 330 323.8 329.2C325.93 328.4 328.07 327.6 330.2 326.8C332.33 326 334.47 325.33 336.6 324.4C338.73 323.47 340.87 322.53 343 321.2C345.13 319.87 347.53 318.05 349.4 316.4C351.27 314.75 352.73 312.75 354.2 311.28C355.67 309.81 356.77 309.02 358.2 307.6C359.63 306.18 361.1 304.45 362.79 302.77C364.49 301.08 367.45 298.37 368.39 297.49C368.92 298.11 371.05 300.56 371.58 301.17C372.51 301.04 375.18 300.56 377.18 300.37C379.17 300.18 381.44 300.18 383.57 300.05C385.7 299.92 387.83 300.05 389.96 299.57C392.09 299.09 394.22 298.16 396.35 297.18C398.48 296.19 400.61 294.86 402.74 293.66C404.87 292.46 407.4 290.94 409.13 289.98C410.87 289.03 412.46 288.25 413.13 287.91" class="blk"/>
<path d="M409.8 289.6C410.32 289.35 412.38 288.35 412.9 288.1" class="blks"/>
<path d="M412.4 292.3C412.47 292.47 412.73 293.13 412.8 293.3" class="blks"/>
<path d="M261 290.8H285.1" class="red"/>
<path d="M261 300.4H285.1" class="blk"/>
<text x="287.4" y="293.3" class="t" textLength="44.5" lengthAdjust="spacingAndGlyphs">Experimental</text>
<text x="287.4" y="302.9" class="t" textLength="35.4" lengthAdjust="spacingAndGlyphs">Numerical</text>
<text x="249.8" y="406.5" class="c" textLength="149.9" lengthAdjust="spacingAndGlyphs">(<tspan font-weight="bold">v</tspan>) specimen F2 [5]-Setup C–½ scale test</text>
<text x="24.1" y="503.4" text-anchor="end" class="n" textLength="3.85" lengthAdjust="spacingAndGlyphs">0</text>
<text x="24.1" y="491.83" text-anchor="end" class="n" textLength="7.7" lengthAdjust="spacingAndGlyphs">10</text>
<text x="24.1" y="480.26" text-anchor="end" class="n" textLength="7.7" lengthAdjust="spacingAndGlyphs">20</text>
<text x="24.1" y="468.69" text-anchor="end" class="n" textLength="7.7" lengthAdjust="spacingAndGlyphs">30</text>
<text x="24.1" y="457.11" text-anchor="end" class="n" textLength="7.7" lengthAdjust="spacingAndGlyphs">40</text>
<text x="24.1" y="445.54" text-anchor="end" class="n" textLength="7.7" lengthAdjust="spacingAndGlyphs">50</text>
<text x="24.1" y="433.97" text-anchor="end" class="n" textLength="7.7" lengthAdjust="spacingAndGlyphs">60</text>
<text x="24.1" y="422.4" text-anchor="end" class="n" textLength="7.7" lengthAdjust="spacingAndGlyphs">70</text>
<text x="31.5" y="515" text-anchor="middle" class="n" textLength="3.85" lengthAdjust="spacingAndGlyphs">0</text>
<text x="63.9" y="515" text-anchor="middle" class="n" textLength="11.55" lengthAdjust="spacingAndGlyphs">100</text>
<text x="96.3" y="515" text-anchor="middle" class="n" textLength="11.55" lengthAdjust="spacingAndGlyphs">200</text>
<text x="128.7" y="515" text-anchor="middle" class="n" textLength="11.55" lengthAdjust="spacingAndGlyphs">300</text>
<text x="161.1" y="515" text-anchor="middle" class="n" textLength="11.55" lengthAdjust="spacingAndGlyphs">400</text>
<text x="193.5" y="515" text-anchor="middle" class="n" textLength="11.55" lengthAdjust="spacingAndGlyphs">500</text>
<path d="M28.5 500.5H31.5M29.5 494.71H31.5M28.5 488.93H31.5M29.5 483.14H31.5M28.5 477.36H31.5M29.5 471.57H31.5M28.5 465.79H31.5M29.5 460H31.5M28.5 454.21H31.5M29.5 448.43H31.5M28.5 442.64H31.5M29.5 436.86H31.5M28.5 431.07H31.5M29.5 425.29H31.5M28.5 419.5H31.5M31.5 500.5V503M47.7 500.5V502.5M63.9 500.5V503M80.1 500.5V502.5M96.3 500.5V503M112.5 500.5V502.5M128.7 500.5V503M144.9 500.5V502.5M161.1 500.5V503M177.3 500.5V502.5M193.5 500.5V503" class="ax"/>
<rect x="31.5" y="419.5" width="162" height="81" class="ax"/>
<text transform="translate(10.3 470) rotate(-90)" text-anchor="middle" class="t" textLength="60" lengthAdjust="spacingAndGlyphs">Applied load (kN)</text>
<text x="64.7" y="526.6" class="t" textLength="91.7" lengthAdjust="spacingAndGlyphs">Vertical displacement (mm)</text>
<path d="M31.26 499.9C31.51 497.89 32.27 491.61 32.77 487.84C33.27 484.07 33.77 480.55 34.28 477.29C34.78 474.02 35.28 471.26 35.78 468.24C36.29 465.23 36.79 461.96 37.29 459.2C37.79 456.43 38.22 454.17 38.8 451.66C39.38 449.15 40.08 446.51 40.76 444.12C41.44 441.73 42.07 439.35 42.87 437.34C43.67 435.33 44.63 433.57 45.58 432.06C46.54 430.55 47.59 429.35 48.6 428.29C49.6 427.24 50.61 426.36 51.61 425.73C52.62 425.1 53.6 424.76 54.63 424.52C55.66 424.29 56.74 424.19 57.8 424.32C58.86 424.45 60.07 425.2 61 425.28C61.93 425.36 62.47 424.75 63.4 424.8C64.33 424.85 65.4 425.07 66.6 425.6C67.8 426.13 69.13 427.33 70.6 428C72.07 428.67 73.8 429.07 75.4 429.6C77 430.13 78.6 430.4 80.2 431.2C81.8 432 83.83 433.68 85 434.4C86.17 435.12 86.17 435.07 87.2 435.52C88.23 435.97 89.87 436.77 91.2 437.12C92.53 437.47 93.73 437.44 95.2 437.6C96.67 437.76 98.13 438.13 100 438.08C101.87 438.03 104.27 437.57 106.4 437.28C108.53 436.99 110.67 436.67 112.8 436.32C114.93 435.97 117.47 435.71 119.2 435.2C120.93 434.69 121.87 434.13 123.2 433.28C124.53 432.43 125.87 431.04 127.2 430.08C128.53 429.12 129.87 428.13 131.2 427.52C132.53 426.91 133.87 426.4 135.2 426.4C136.53 426.4 138.3 427.12 139.2 427.52C140.1 427.92 140.23 428.32 140.6 428.8C140.97 429.28 141.27 430.13 141.4 430.4C141.53 434.4 142.07 450.4 142.2 454.4C142.41 453.47 142.81 450.13 143.48 448.8C144.15 447.47 145.08 447.07 146.2 446.4C147.32 445.73 148.73 445.23 150.2 444.8C151.67 444.37 153.4 444.03 155 443.84C156.6 443.65 158.2 443.52 159.8 443.68C161.4 443.84 163 444.35 164.6 444.8C166.2 445.25 168.01 445.87 169.4 446.4C170.79 446.93 172.33 447.73 172.92 448C173.08 448.4 173.61 448.93 173.88 450.4C174.15 451.87 174.41 455.73 174.52 456.8C174.68 457.07 175.32 458.13 175.48 458.4C175.64 461.41 176.28 473.47 176.44 476.48C176.6 475.95 177.24 473.81 177.4 473.28" class="red"/>
<path d="M31.26 499.9C31.51 498.02 32.27 492.36 32.77 488.59C33.27 484.82 33.77 480.93 34.28 477.29C34.78 473.64 35.28 470.25 35.78 466.73C36.29 463.22 36.79 459.45 37.29 456.18C37.79 452.91 38.17 450.15 38.8 447.14C39.43 444.12 40.31 440.73 41.06 438.09C41.81 435.45 42.44 433.07 43.32 431.31C44.2 429.55 45.21 428.54 46.34 427.54C47.47 426.53 48.72 425.78 50.11 425.28C51.49 424.77 52.81 424.68 54.63 424.52C56.44 424.36 58.6 424.35 61 424.32C63.4 424.29 66.33 424.24 69 424.32C71.67 424.4 74.6 424.64 77 424.8C79.4 424.96 81.17 424.93 83.4 425.28C85.63 425.63 88.17 426.43 90.4 426.88C92.63 427.33 94.67 427.63 96.8 428C98.93 428.37 101.07 428.83 103.2 429.12C105.33 429.41 107.47 429.55 109.6 429.76C111.73 429.97 113.87 430.21 116 430.4C118.13 430.59 120.27 430.83 122.4 430.88C124.53 430.93 126.67 430.8 128.8 430.72C130.93 430.64 133.1 430.51 135.2 430.4C137.3 430.29 140.37 430.13 141.4 430.08C141.59 430.13 142.33 430.35 142.52 430.4C142.95 436.8 144.65 462.4 145.08 468.8C145.19 468.27 145.13 466.4 145.72 465.6C146.31 464.8 147.05 464.67 148.6 464C150.15 463.33 152.87 462.27 155 461.6C157.13 460.93 159.53 460.53 161.4 460C163.27 459.47 164.6 458.96 166.2 458.4C167.8 457.84 170.2 456.93 171 456.64" class="blk"/>
<path d="M45.8 477.5H69.8" class="red"/>
<path d="M45.8 487.3H69.8" class="blk"/>
<text x="72.7" y="480" class="t" textLength="44.5" lengthAdjust="spacingAndGlyphs">Experimental</text>
<text x="72.7" y="489.8" class="t" textLength="35.6" lengthAdjust="spacingAndGlyphs">Numerical</text>
<text x="23.7" y="544.7" class="c" textLength="158" lengthAdjust="spacingAndGlyphs">(<tspan font-weight="bold">w</tspan>) specimen IF-B [8]-Setup C–½ scale test</text>
<text x="247.1" y="505.4" text-anchor="end" class="n" textLength="3.85" lengthAdjust="spacingAndGlyphs">0</text>
<text x="247.1" y="488.8" text-anchor="end" class="n" textLength="7.7" lengthAdjust="spacingAndGlyphs">30</text>
<text x="247.1" y="472.2" text-anchor="end" class="n" textLength="7.7" lengthAdjust="spacingAndGlyphs">60</text>
<text x="247.1" y="455.6" text-anchor="end" class="n" textLength="7.7" lengthAdjust="spacingAndGlyphs">90</text>
<text x="247.1" y="439" text-anchor="end" class="n" textLength="11.55" lengthAdjust="spacingAndGlyphs">120</text>
<text x="247.1" y="422.4" text-anchor="end" class="n" textLength="11.55" lengthAdjust="spacingAndGlyphs">150</text>
<text x="254.5" y="516.7" text-anchor="middle" class="n" textLength="3.85" lengthAdjust="spacingAndGlyphs">0</text>
<text x="300.79" y="516.7" text-anchor="middle" class="n" textLength="11.55" lengthAdjust="spacingAndGlyphs">200</text>
<text x="347.07" y="516.7" text-anchor="middle" class="n" textLength="11.55" lengthAdjust="spacingAndGlyphs">400</text>
<text x="393.36" y="516.7" text-anchor="middle" class="n" textLength="11.55" lengthAdjust="spacingAndGlyphs">600</text>
<path d="M251.5 502.5H254.5M252.5 494.2H254.5M251.5 485.9H254.5M252.5 477.6H254.5M251.5 469.3H254.5M252.5 461H254.5M251.5 452.7H254.5M252.5 444.4H254.5M251.5 436.1H254.5M252.5 427.8H254.5M251.5 419.5H254.5M254.5 502.5V505M263.76 502.5V504.5M273.01 502.5V504.5M282.27 502.5V504.5M291.53 502.5V504.5M300.79 502.5V505M310.04 502.5V504.5M319.3 502.5V504.5M328.56 502.5V504.5M337.81 502.5V504.5M347.07 502.5V505M356.33 502.5V504.5M365.59 502.5V504.5M374.84 502.5V504.5M384.1 502.5V504.5M393.36 502.5V505M402.61 502.5V504.5M411.87 502.5V504.5" class="ax"/>
<rect x="254.5" y="419.5" width="162" height="83" class="ax"/>
<text transform="translate(231.3 462.3) rotate(-90)" text-anchor="middle" class="t" textLength="60" lengthAdjust="spacingAndGlyphs">Applied load (kN)</text>
<text x="287.7" y="528.3" class="t" textLength="92.8" lengthAdjust="spacingAndGlyphs">Vertical displacement (mm)</text>
<path d="M254.4 502.08C254.59 501.07 255.12 498.08 255.52 496C255.92 493.92 256.37 491.73 256.8 489.6C257.23 487.47 257.6 485.2 258.08 483.2C258.56 481.2 259.09 478.93 259.68 477.6C260.27 476.27 260.88 476.13 261.6 475.2C262.32 474.27 263.2 473.07 264 472C264.8 470.93 265.6 469.65 266.4 468.8C267.2 467.95 268.05 467.28 268.8 466.88C269.55 466.48 270.21 466.35 270.88 466.4C271.55 466.45 272.08 466.8 272.8 467.2C273.52 467.6 274.27 468.45 275.2 468.8C276.13 469.15 277.2 469.12 278.4 469.28C279.6 469.44 280.93 469.57 282.4 469.76C283.87 469.95 285.6 470.16 287.2 470.4C288.8 470.64 290.53 470.93 292 471.2C293.47 471.47 294.93 471.73 296 472C297.07 472.27 298 472.67 298.4 472.8C298.53 474.13 299.07 479.47 299.2 480.8C299.47 480.4 300 478.67 300.8 478.4C301.6 478.13 302.93 479.33 304 479.2C305.07 479.07 306.17 478.32 307.2 477.6C308.23 476.88 309.03 475.95 310.2 474.88C311.37 473.81 312.73 472.16 314.2 471.2C315.67 470.24 317.53 469.57 319 469.12C320.47 468.67 321.67 468.53 323 468.48C324.33 468.43 325.67 468.43 327 468.8C328.33 469.17 329.67 470.19 331 470.72C332.33 471.25 333.8 471.73 335 472C336.2 472.27 337 472.45 338.2 472.32C339.4 472.19 340.73 471.57 342.2 471.2C343.67 470.83 345.4 470.48 347 470.08C348.6 469.68 350.2 469.07 351.8 468.8C353.4 468.53 355.27 468.75 356.6 468.48C357.93 468.21 358.73 467.73 359.8 467.2C360.87 466.67 362.1 465.68 363 465.28C363.9 464.88 364.17 465.49 365.2 464.8C366.23 464.11 367.87 462.27 369.2 461.12C370.53 459.97 371.73 459.09 373.2 457.92C374.67 456.75 376.13 455.6 378 454.08C379.87 452.56 382.27 450.48 384.4 448.8C386.53 447.12 388.93 445.33 390.8 444C392.67 442.67 394.48 441.47 395.6 440.8C396.72 440.13 396.72 440.45 397.52 440C398.32 439.55 399.25 438.93 400.4 438.08C401.55 437.23 403.07 435.81 404.4 434.88C405.73 433.95 407.41 432.96 408.4 432.48C409.39 432 409.79 431.87 410.32 432C410.85 432.13 411.25 432.48 411.6 433.28C411.95 434.08 412.27 436.21 412.4 436.8" class="red"/>
<path d="M254.4 502.4C254.59 501.33 255.12 498.27 255.52 496C255.92 493.73 256.32 491.2 256.8 488.8C257.28 486.4 257.87 483.6 258.4 481.6C258.93 479.6 259.47 478.13 260 476.8C260.53 475.47 261.07 474.67 261.6 473.6C262.13 472.53 262.67 471.2 263.2 470.4C263.73 469.6 264.13 469.2 264.8 468.8C265.47 468.4 266.4 468.21 267.2 468C268 467.79 268.8 467.39 269.6 467.52C270.4 467.65 271.07 468.19 272 468.8C272.93 469.41 274 470.45 275.2 471.2C276.4 471.95 277.73 472.75 279.2 473.28C280.67 473.81 282.4 474.21 284 474.4C285.6 474.59 287.2 474.53 288.8 474.4C290.4 474.27 292 473.95 293.6 473.6C295.2 473.25 296.8 472.72 298.4 472.32C300 471.92 301.6 471.57 303.2 471.2C304.8 470.83 306.3 470.48 308 470.08C309.7 469.68 311.43 469.23 313.4 468.8C315.37 468.37 317.67 468 319.8 467.52C321.93 467.04 324.07 466.64 326.2 465.92C328.33 465.2 330.47 464.11 332.6 463.2C334.73 462.29 336.87 461.36 339 460.48C341.13 459.6 343.27 458.93 345.4 457.92C347.53 456.91 349.67 455.57 351.8 454.4C353.93 453.23 356.07 452.08 358.2 450.88C360.33 449.68 362.37 448.53 364.6 447.2C366.83 445.87 369.37 444.21 371.6 442.88C373.83 441.55 375.6 440.48 378 439.2C380.4 437.92 383.33 436.45 386 435.2C388.67 433.95 391.6 432.8 394 431.68C396.4 430.56 398.27 429.55 400.4 428.48C402.53 427.41 405.73 425.81 406.8 425.28" class="blk"/>
<path d="M262 430.8H286.5" class="red"/>
<path d="M262 440.7H286.5" class="blk"/>
<text x="288.9" y="433.3" class="t" textLength="44.5" lengthAdjust="spacingAndGlyphs">Experimental</text>
<text x="288.9" y="443.2" class="t" textLength="35.6" lengthAdjust="spacingAndGlyphs">Numerical</text>
<text x="247.2" y="545.4" class="c" textLength="154.3" lengthAdjust="spacingAndGlyphs">(<tspan font-weight="bold">x</tspan>) specimen IF-L [8]-Setup C–½ scale test</text>
</svg>
</body></html>
